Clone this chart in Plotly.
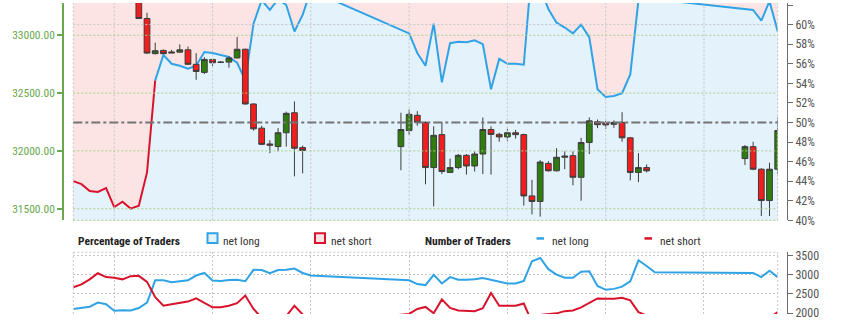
import plotly.graph_objects as go

W, H = 845, 321

# ---------------- data ----------------
# 4-hour periods, index 0..86 (weekend gaps have no candles)
candle_idx = [8, 9, 10, 11, 12, 13, 14, 15, 16, 17, 18, 19, 20, 21, 22, 23, 24, 25, 26, 27, 28,
              40, 41, 42, 43, 44, 45, 46, 47, 48, 49, 50, 51, 52, 53, 54, 55, 56, 57, 58, 59,
              60, 61, 62, 63, 64, 65, 66, 67, 68, 69, 70,
              82, 83, 84, 85, 86]
candle_open = [33420, 33145, 32841, 32869, 32846, 32854, 32874, 32749, 32679, 32791, 32768, 32768, 32804, 32879, 32406, 32197, 32060, 32038, 32157, 32330, 32029,
               32037, 32176, 32308, 32247, 31856, 32141, 31814, 31856, 31962, 31870, 31973, 32185, 32143, 32121, 32157, 32141, 31611, 31563, 31892, 31828,
               31945, 31959, 31772, 32073, 32252, 32241, 32230, 32247, 32113, 31814, 31856,
               31934, 32037, 31842, 31571, 31842]
candle_high = [33450, 33195, 32936, 32877, 32874, 32921, 32902, 32846, 32810, 32795, 32775, 32818, 32986, 32885, 32410, 32218, 32093, 32197, 32340, 32428, 32046,
               32330, 32358, 32344, 32255, 32213, 32247, 31934, 31973, 31973, 31996, 32289, 32213, 32157, 32191, 32182, 32149, 31750, 31920, 31912, 32023,
               31996, 31996, 32113, 32290, 32272, 32260, 32264, 32335, 32121, 31981, 31883,
               32051, 32079, 31850, 31898, 32290]
candle_low = [33140, 32840, 32835, 32838, 32846, 32850, 32745, 32615, 32665, 32735, 32760, 32720, 32800, 32400, 32176, 32050, 31981, 31996, 32037, 31780, 31806,
              31833, 32140, 32218, 31711, 31521, 31800, 31810, 31842, 31795, 31822, 31800, 31795, 32079, 32084, 32107, 31527, 31452, 31432, 31822, 31822,
              31842, 31703, 31569, 31973, 32197, 32191, 32200, 32079, 31745, 31730, 31814,
              31878, 31833, 31437, 31437, 31800]
candle_close = [33145, 32846, 32866, 32841, 32854, 32874, 32749, 32687, 32791, 32762, 32766, 32804, 32879, 32406, 32191, 32057, 32050, 32157, 32325, 32023, 32004,
                32185, 32316, 32247, 31856, 32135, 31822, 31856, 31962, 31870, 31973, 32185, 32143, 32121, 32157, 32141, 31611, 31563, 31904, 31828, 31945,
                31955, 31772, 32073, 32260, 32227, 32225, 32247, 32113, 31814, 31856, 31828,
                32037, 31842, 31571, 31842, 32176]

period_idx = list(range(87))
N = None
pct_net_long = ([44.0, 43.7, 43.0, 42.9, 43.3, 41.35, 41.9, 41.2, 41.5, 44.9,
                 54.3, 56.9, 56.0, 55.8, 55.5, 55.8, 57.2, 57.1, 56.9, 56.7,
                 56.1, 54.3, 60.1, 62.5, 61.5, 62.6, 62.0, 59.3, 61.0, 63.5]
                + [N] * 11
                + [59.1, 57.1, 55.8, 60.1, 54.1, 58.1, 58.25, 58.2, 58.4, 58.0,
                   53.4, 56.5, 56.0, 56.0, 55.9, 66.0, 63.8, 61.6, 60.2, 59.7,
                   59.1, 60.0, 58.7, 53.4, 52.6, 52.7, 53.0, 54.9, 62.5, 62.7, 62.6]
                + [N] * 11
                + [61.5, 60.4, 62.4, 59.3])
num_net_long = ([2107, 2133, 2167, 2275, 2233, 2058, 2075, 2067, 2133, 2275,
                 2858, 2858, 2808, 2833, 2858, 2983, 3050, 2850, 2842, 2867,
                 2875, 2833, 3133, 3125, 3042, 3125, 3133, 3167, 3050, 2983]
                + [N] * 11
                + [2858, 2758, 2733, 3000, 2775, 2942, 2875, 2875, 2883, 2917,
                   2875, 2833, 2775, 2775, 2842, 3358, 3442, 3150, 3008, 2925,
                   2925, 3083, 3092, 2708, 2608, 2633, 2692, 2833, 3383, 3233, 3067]
                + [N] * 11
                + [3050, 2942, 3108, 2942])
num_net_short = ([2675, 2750, 2883, 3042, 2942, 2925, 2883, 2967, 2975, 2817,
                  2417, 2192, 2233, 2267, 2300, 2383, 2275, 2150, 2150, 2192,
                  2258, 2458, 2108, 1875, 1904, 1867, 1920, 2192, 1965, 1715]
                 + [N] * 11
                 + [1978, 2108, 2160, 1995, 2358, 2133, 2067, 2067, 2050, 2125,
                    2525, 2192, 2192, 2192, 2250, 1760, 1950, 1964, 1992, 2050,
                    2067, 2150, 2275, 2383, 2375, 2375, 2400, 2333, 2025, 1935, 1840]
                 + [N] * 11
                 + [1909, 1929, 1873, 2025])

price_ticks = [31500, 32000, 32500, 33000]
pct_ticks = list(range(40, 63, 2))
pct_labels = [f"{v}%" for v in pct_ticks]
num_ticks = [2000, 2500, 3000, 3500]
short_side_end = 10  # sentiment line drawn red up to this period

# ---------------- styles ----------------
FONT = "Roboto Condensed, Liberation Sans Narrow, DejaVu Sans Condensed, Roboto, sans-serif"
PINK = '#fce4e5'
LBLUE = '#e4f2fc'
BLUE = '#2fa3e6'
RED = '#d8132b'
GREEN_TXT = '#6aa84f'
GREEN_GRID = '#a9cf8a'
GRAY_GRID = '#c6c6c6'
AXIS_GRAY = '#6b6b6b'
UP = '#2e7d0e'
DN = '#f41d1d'
WICK = '#3c3c3c'
DOT = '2px,2px'


def px_x(p):
    return p / W


def px_y(p):
    return 1 - p / H


def valid(xs, ys):
    pts = [(x, y) for x, y in zip(xs, ys) if y is not None]
    return [p[0] for p in pts], [p[1] for p in pts]


XD = [px_x(73.3), px_x(777.7)]
MAIN_Y = [px_y(224.3), 1.0]
SUB_Y = [0.0, px_y(257.3)]

fig = go.Figure()

# sentiment fill (below line = light blue) on base axis y (percent)
fx, fy = valid(period_idx, pct_net_long)
fig.add_trace(go.Scatter(x=fx, y=fy, xaxis='x', yaxis='y', mode='lines',
                         line=dict(width=0, color=LBLUE), fill='tozeroy',
                         fillcolor=LBLUE, hoverinfo='skip', showlegend=False))
# sentiment line
rx, ry = valid(period_idx[:short_side_end + 1], pct_net_long[:short_side_end + 1])
bx, by = valid(period_idx[short_side_end:], pct_net_long[short_side_end:])
fig.add_trace(go.Scatter(x=rx, y=ry, xaxis='x', yaxis='y', mode='lines',
                         line=dict(width=2, color=RED), showlegend=False))
fig.add_trace(go.Scatter(x=bx, y=by, xaxis='x', yaxis='y', mode='lines',
                         line=dict(width=2, color=BLUE), showlegend=False))

# candles on overlaying price axis y2
fig.add_trace(go.Candlestick(x=candle_idx, open=candle_open, high=candle_high,
                             low=candle_low, close=candle_close, xaxis='x', yaxis='y2',
                             increasing=dict(fillcolor=UP, line=dict(color=WICK, width=1)),
                             decreasing=dict(fillcolor=DN, line=dict(color=WICK, width=1)),
                             whiskerwidth=0, showlegend=False))

# number of traders
lx, ly = valid(period_idx, num_net_long)
sx, sy = valid(period_idx, num_net_short)
fig.add_trace(go.Scatter(x=lx, y=ly, xaxis='x2', yaxis='y3', mode='lines',
                         line=dict(width=2, color=BLUE), showlegend=False))
fig.add_trace(go.Scatter(x=sx, y=sy, xaxis='x2', yaxis='y3', mode='lines',
                         line=dict(width=2, color=RED), showlegend=False))

shapes = []
# pink background of the sentiment panel
shapes.append(dict(type='rect', xref='x domain', yref='y domain', x0=0, x1=1, y0=0, y1=1,
                   fillcolor=PINK, line=dict(width=0), layer='below'))
# vertical grid (every 12 periods from 5)
for g in range(5, 87, 12):
    shapes.append(dict(type='line', xref='x', yref='y domain', x0=g, x1=g, y0=0, y1=1,
                       line=dict(color=GRAY_GRID, width=1, dash=DOT), layer='above'))
for xd in (0, 1):
    shapes.append(dict(type='line', xref='x domain', yref='y domain', x0=xd, x1=xd, y0=0, y1=1,
                       line=dict(color=GRAY_GRID, width=1, dash=DOT), layer='above'))
# price grid
for p in price_ticks:
    shapes.append(dict(type='line', xref='x domain', yref='y2', x0=0, x1=1, y0=p, y1=p,
                       line=dict(color=GREEN_GRID, width=1, dash=DOT), layer='above'))
shapes.append(dict(type='line', xref='x domain', yref='y domain', x0=0, x1=1, y0=0, y1=0,
                   line=dict(color=GREEN_GRID, width=1, dash=DOT), layer='above'))
# 60% grid and 50% line
shapes.append(dict(type='line', xref='x domain', yref='y', x0=0, x1=1, y0=60, y1=60,
                   line=dict(color=GRAY_GRID, width=1, dash=DOT), layer='above'))
shapes.append(dict(type='line', xref='x domain', yref='y', x0=0, x1=1, y0=50, y1=50,
                   line=dict(color='#747474', width=2, dash='dashdot'), layer='above'))
# bottom panel borders
shapes.append(dict(type='line', xref='x2 domain', yref='y3 domain', x0=0, x1=1, y0=1, y1=1,
                   line=dict(color=GRAY_GRID, width=1, dash=DOT)))
for xd in (0, 1):
    shapes.append(dict(type='line', xref='x2 domain', yref='y3 domain', x0=xd, x1=xd, y0=0, y1=1,
                       line=dict(color=GRAY_GRID, width=1, dash=DOT)))

# legend icons
shapes.append(dict(type='rect', xref='paper', yref='paper', x0=px_x(207.5), x1=px_x(217.5),
                   y0=px_y(247.7), y1=px_y(237.7), fillcolor=LBLUE, line=dict(color=BLUE, width=2)))
shapes.append(dict(type='rect', xref='paper', yref='paper', x0=px_x(315), x1=px_x(325),
                   y0=px_y(247.7), y1=px_y(237.7), fillcolor=PINK, line=dict(color=RED, width=2)))
shapes.append(dict(type='line', xref='paper', yref='paper', x0=px_x(536.5), x1=px_x(544),
                   y0=px_y(243), y1=px_y(243), line=dict(color=BLUE, width=2.5)))
shapes.append(dict(type='line', xref='paper', yref='paper', x0=px_x(644.5), x1=px_x(652),
                   y0=px_y(243), y1=px_y(243), line=dict(color=RED, width=2.5)))

annotations = []
leg = [("<b>Percentage of Traders</b>", 75.5, '#222222'),
       ("net long", 221, '#333333'),
       ("net short", 328.5, '#333333'),
       ("<b>Number of Traders</b>", 423, '#222222'),
       ("net long", 549.5, '#333333'),
       ("net short", 657.5, '#333333')]
for txt, xx, col in leg:
    annotations.append(dict(text=txt, xref='paper', yref='paper', x=px_x(xx), y=px_y(245.5),
                            xanchor='left', yanchor='middle', showarrow=False,
                            font=dict(family=FONT, size=11.5, color=col)))

fig.update_layout(
    width=W, height=H, margin=dict(l=0, r=0, t=0, b=0),
    paper_bgcolor='white', plot_bgcolor='rgba(0,0,0,0)',
    showlegend=False, shapes=shapes, annotations=annotations,
    font=dict(family=FONT),
    boxgap=0.3, boxgroupgap=0,
    xaxis=dict(domain=XD, anchor='y', range=[0, 86], showgrid=False, zeroline=False,
               showticklabels=False, ticks='', showline=False, rangeslider=dict(visible=False),
               fixedrange=True),
    yaxis=dict(domain=MAIN_Y, anchor='free', position=px_x(787), side='right',
               range=[40, 62.21], tickvals=pct_ticks, ticktext=pct_labels,
               tickfont=dict(family=FONT, size=12, color='#555555'),
               ticks='outside', ticklen=5, tickcolor=AXIS_GRAY,
               showline=True, linecolor=AXIS_GRAY, linewidth=1,
               showgrid=False, zeroline=False),
    yaxis2=dict(overlaying='y', anchor='free', position=px_x(63), side='left',
                range=[31400, 33279], tickvals=price_ticks, tickformat='.2f',
                tickfont=dict(family=FONT, size=11.5, color=GREEN_TXT),
                ticks='outside', ticklen=5, tickcolor=GREEN_TXT, tickwidth=1.5,
                showline=True, linecolor=GREEN_TXT, linewidth=1.5,
                showgrid=False, zeroline=False),
    xaxis2=dict(domain=XD, anchor='y3', range=[0, 86], showticklabels=False, ticks='',
                tick0=5, dtick=12, showgrid=True, gridcolor=GRAY_GRID, griddash=DOT,
                zeroline=False, showline=False),
    yaxis3=dict(domain=SUB_Y, anchor='free', position=px_x(787), side='right',
                range=[1975, 3592], tickvals=num_ticks,
                tickfont=dict(family=FONT, size=12, color='#555555'),
                ticks='outside', ticklen=5, tickcolor=AXIS_GRAY,
                showline=True, linecolor=AXIS_GRAY, linewidth=1,
                showgrid=True, gridcolor=GRAY_GRID, griddash=DOT, zeroline=False),
)

fig.write_html("out.html")
